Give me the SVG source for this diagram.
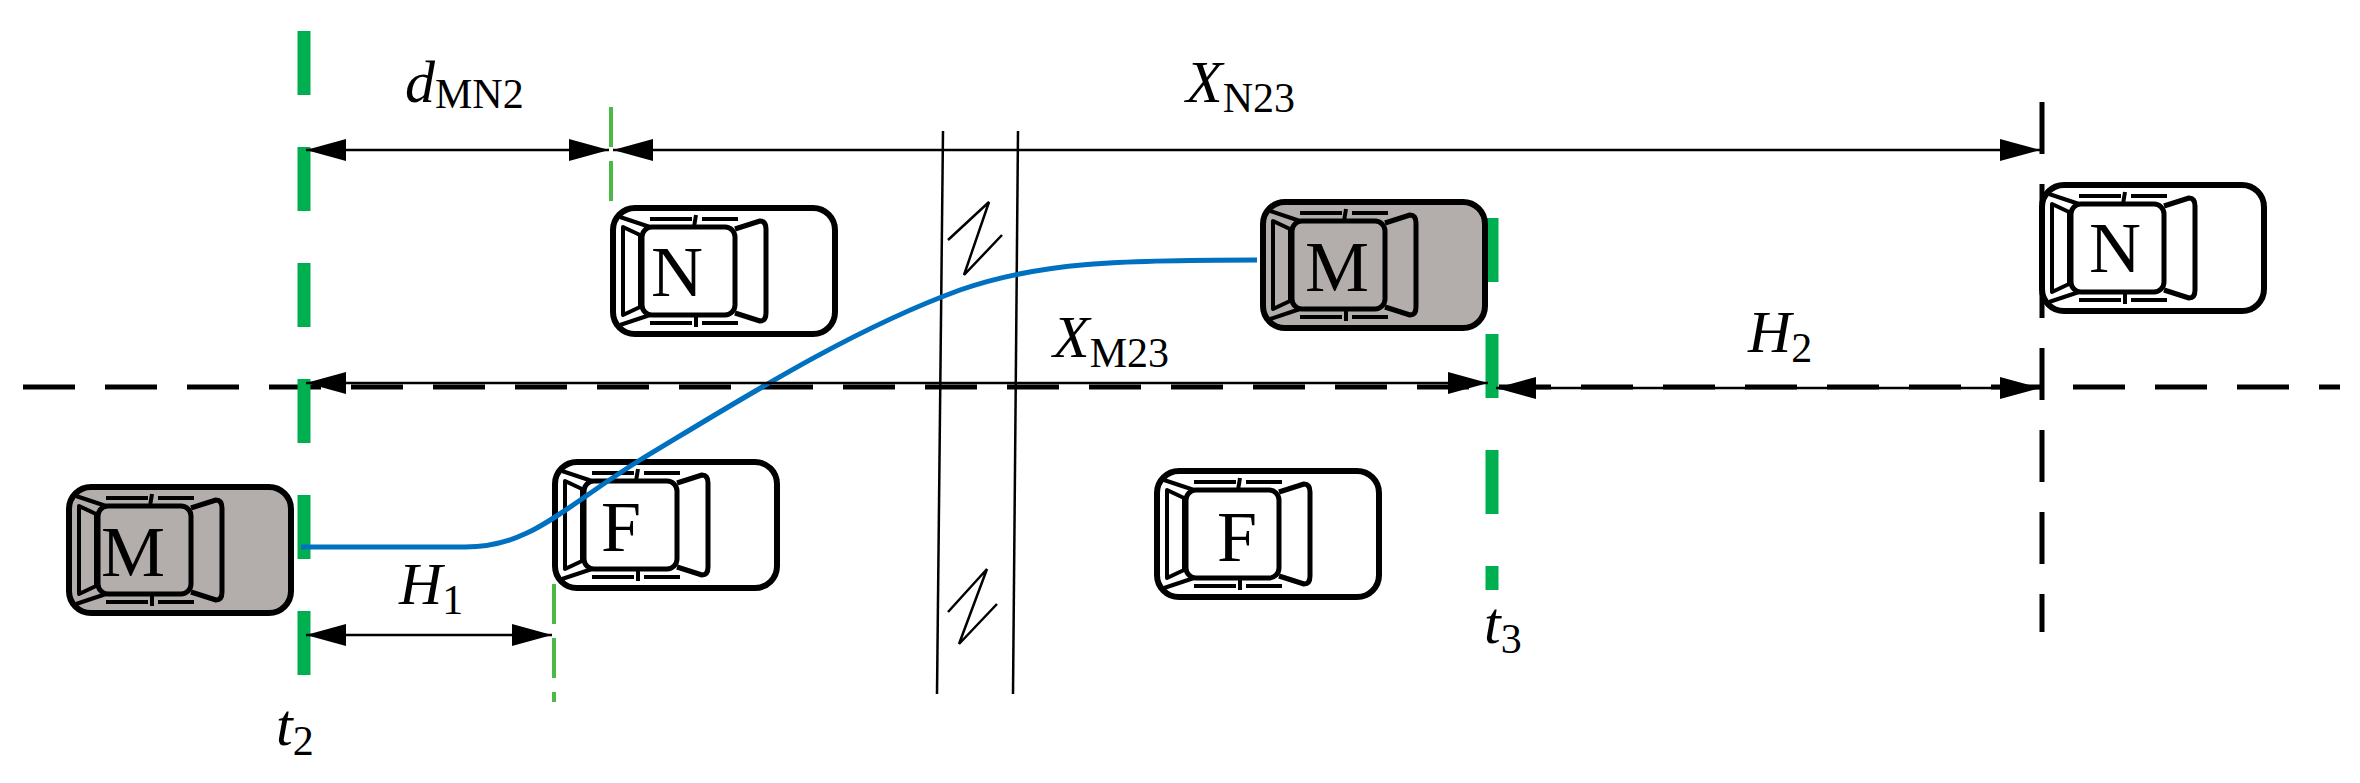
<svg xmlns="http://www.w3.org/2000/svg" width="2360" height="783" viewBox="0 0 2360 783">
<style>
.lbl{font-family:"Liberation Serif",serif;font-style:italic;font-size:60px;fill:#000}
.sub{font-family:"Liberation Serif",serif;font-size:42px;font-style:normal}
.car-letter{font-family:"Liberation Serif",serif;font-size:72px;fill:#000;text-anchor:middle}
.dim{stroke:#000;stroke-width:2.5;fill:none}
.g{stroke:#00b050;stroke-width:13;stroke-dasharray:64 52;fill:none}
.gt{stroke:#4cb848;stroke-width:4;stroke-dasharray:40 14;fill:none}
.bd{stroke:#000;stroke-width:5;stroke-dasharray:52 30;fill:none}
.cs{stroke:#000;fill:none;stroke-linejoin:round}
</style>
<defs>
<marker id="ah" viewBox="0 0 40 22" refX="40" refY="11" markerWidth="40" markerHeight="22" markerUnits="userSpaceOnUse" orient="auto-start-reverse">
<path d="M0 0 L40 11 L0 22 Z" fill="#000"/>
</marker>
<g id="car">
<rect x="3" y="3" width="222" height="126" rx="22" class="cs" stroke-width="6"/>
<path d="M10 12 L40 22 M10 120 L40 110" class="cs" stroke-width="4"/>
<polygon points="13,22 30,30 30,102 13,110" class="cs" stroke-width="4"/>
<rect x="32" y="22" width="93" height="88" rx="10" class="cs" stroke-width="5"/>
<path d="M40 14 L82 14 M92 14 L128 14 M40 118 L82 118 M92 118 L128 118 M86 10 L84 22 M86 110 L86 122" class="cs" stroke-width="4"/>
<path d="M125 24 L150 16 Q156 16 156 24 L156 108 Q156 116 150 116 L125 108" class="cs" stroke-width="5"/>
</g>
</defs>

<g id="lines">
<line x1="23" y1="387" x2="2340" y2="387" class="bd"/>
<line x1="304" y1="31" x2="304" y2="680" class="g"/>
<line x1="1492" y1="218" x2="1492" y2="590" class="g"/>
<line x1="611" y1="107" x2="611" y2="205" class="gt"/>
<line x1="554" y1="584" x2="554" y2="702" class="gt" stroke-dasharray="40 22"/>
<line x1="2042" y1="102" x2="2042" y2="632" class="bd" stroke-dasharray="28 24"/>
<line x1="943" y1="131" x2="937" y2="694" stroke="#000" stroke-width="2.5"/>
<line x1="1018" y1="131" x2="1013" y2="694" stroke="#000" stroke-width="2.5"/>
<polyline points="948,240 989,202 964,275 1002,235" stroke="#000" stroke-width="2.5" fill="none"/>
<polyline points="948,612 987,569 959,644 997,604" stroke="#000" stroke-width="2.5" fill="none"/>
</g>

<g id="car-M1"><g transform="translate(66,484)"><rect x="3" y="3" width="222" height="126" rx="22" fill="#b3aeac"/><use href="#car"/></g><text x="133" y="576" class="car-letter">M</text></g>
<g id="car-N1"><g transform="translate(610,205)"><rect x="3" y="3" width="222" height="126" rx="22" fill="#fff"/><use href="#car"/></g><text x="677" y="296" class="car-letter">N</text></g>
<g id="car-F1"><g transform="translate(552,459)"><rect x="3" y="3" width="222" height="126" rx="22" fill="#fff"/><use href="#car"/></g><text x="621" y="551" class="car-letter">F</text></g>
<g id="car-M2"><g transform="translate(1260,199)"><rect x="3" y="3" width="222" height="126" rx="22" fill="#b3aeac"/><use href="#car"/></g><text x="1337" y="291" class="car-letter">M</text></g>
<g id="car-F2"><g transform="translate(1154,468)"><rect x="3" y="3" width="222" height="126" rx="22" fill="#fff"/><use href="#car"/></g><text x="1237" y="561" class="car-letter">F</text></g>
<g id="car-N2"><g transform="translate(2039,182)"><rect x="3" y="3" width="222" height="126" rx="22" fill="#fff"/><use href="#car"/></g><text x="2115" y="272" class="car-letter">N</text></g>

<g id="connectors">
<path d="M301 547 L465 547 C530 547 560 510 640 460 C740 400 850 330 960 290 C1040 262 1120 260 1257 260" stroke="#0070c0" stroke-width="5" fill="none"/>
<line x1="306" y1="150" x2="609" y2="150" class="dim" marker-start="url(#ah)" marker-end="url(#ah)"/>
<line x1="613" y1="150" x2="2040" y2="150" class="dim" marker-start="url(#ah)" marker-end="url(#ah)"/>
<line x1="306" y1="383" x2="1488" y2="383" class="dim" marker-start="url(#ah)" marker-end="url(#ah)"/>
<line x1="1496" y1="388" x2="2040" y2="388" class="dim" marker-start="url(#ah)" marker-end="url(#ah)"/>
<line x1="306" y1="635" x2="552" y2="635" class="dim" marker-start="url(#ah)" marker-end="url(#ah)"/>
</g>

<g id="labels">
<text x="405" y="102" class="lbl">d<tspan class="sub" dy="6">MN2</tspan></text>
<text x="1186" y="102" class="lbl">X<tspan class="sub" dy="10">N23</tspan></text>
<text x="1053" y="357" class="lbl">X<tspan class="sub" dy="10">M23</tspan></text>
<text x="1748" y="352" class="lbl">H<tspan class="sub" dy="10">2</tspan></text>
<text x="399" y="604" class="lbl">H<tspan class="sub" dy="10">1</tspan></text>
<text x="276" y="745" class="lbl">t<tspan class="sub" dy="10">2</tspan></text>
<text x="1484" y="643" class="lbl">t<tspan class="sub" dy="10">3</tspan></text>
</g>
</svg>
